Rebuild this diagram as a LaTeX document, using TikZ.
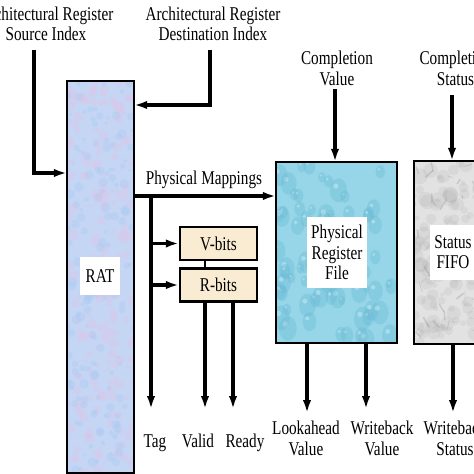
\documentclass[tikz,border=0pt]{standalone}
\usepackage{fontspec}
\setmainfont{Liberation Serif}[FakeStretch=0.78]
\usetikzlibrary{arrows.meta}
\definecolor{ratblue}{RGB}{196,214,244}
\definecolor{ratpink}{RGB}{226,196,232}
\definecolor{ratdeep}{RGB}{170,202,242}
\definecolor{prfcyan}{RGB}{150,214,232}
\definecolor{prfdark}{RGB}{100,182,210}
\definecolor{marble}{RGB}{226,226,226}
\definecolor{marbledark}{RGB}{150,150,150}
\definecolor{cream}{RGB}{250,236,210}
\begin{document}
\begin{tikzpicture}[x=1pt,y=-1pt,
  lbl/.style={font=\fontsize{19.5}{20.5}\selectfont, align=center, inner sep=0pt},
  conn/.style={line width=3.2pt},
  arr/.style={conn,-{Latex[length=13pt,width=8.5pt]}},
  unitbox/.style={inner sep=0pt},
  border/.style={line width=2.4pt},
  bitbox/.style={draw=black, line width=2.4pt, fill=cream, inner sep=0pt,
    minimum width=77pt, minimum height=33pt,
    font=\fontsize{19.5}{20.5}\selectfont},
  whitetag/.style={fill=white, inner sep=0pt, align=center,
    font=\fontsize{19.5}{20.5}\selectfont}]
\useasboundingbox (0,0) rectangle (474,474);

% ---------- RAT ----------
\node[unitbox, fill=ratblue, minimum width=67pt, minimum height=392pt] (rat) at (100.5,277) {};
\pgfmathsetseed{3}
\begin{scope}
  \clip (rat.south west) rectangle (rat.north east);
  \foreach \i in {1,...,220}{
    \pgfmathsetmacro{\px}{67+67*rnd}
    \pgfmathsetmacro{\py}{81+392*rnd}
    \pgfmathsetmacro{\pr}{1.5+4*rnd}
    \fill[ratpink, opacity=0.35] (\px,\py) circle[radius=\pr];
  }
  \foreach \i in {1,...,160}{
    \pgfmathsetmacro{\px}{67+67*rnd}
    \pgfmathsetmacro{\py}{81+392*rnd}
    \pgfmathsetmacro{\pr}{1.5+3.5*rnd}
    \fill[ratdeep, opacity=0.35] (\px,\py) circle[radius=\pr];
  }
\end{scope}
\draw[border] (rat.north west) rectangle (rat.south east);
\node[whitetag, minimum width=40pt, minimum height=38pt] (ratlbl) at (100,276) {RAT};

% ---------- Physical Register File ----------
\node[unitbox, fill=prfcyan, minimum width=121pt, minimum height=181pt] (prf) at (336.5,252.5) {};
\begin{scope}
  \clip (prf.south west) rectangle (prf.north east);
  \foreach \i in {1,...,80}{
    \pgfmathsetmacro{\px}{276+121*rnd}
    \pgfmathsetmacro{\py}{162+181*rnd}
    \pgfmathsetmacro{\pr}{3+6*rnd}
    \fill[prfdark, opacity=0.3] (\px,\py) ellipse[x radius=\pr, y radius=1.4*\pr];
    \fill[white, opacity=0.3] (\px-0.3*\pr,\py-0.5*\pr) circle[radius=0.3*\pr];
  }
\end{scope}
\draw[border] (prf.north west) rectangle (prf.south east);
\node[whitetag, minimum width=60pt, minimum height=71pt] (prflbl) at (337,252.5) {Physical\\Register\\File};

% ---------- Status FIFO ----------
\node[unitbox, fill=marble, minimum width=121pt, minimum height=183pt] (fifo) at (474.5,252.5) {};
\begin{scope}
  \clip (fifo.south west) rectangle (fifo.north east);
  \foreach \i in {1,...,120}{
    \pgfmathsetmacro{\px}{414+70*rnd}
    \pgfmathsetmacro{\py}{161+183*rnd}
    \pgfmathsetmacro{\pr}{2+6*rnd}
    \fill[marbledark, opacity=0.12] (\px,\py) circle[radius=\pr];
  }
  \foreach \i in {1,...,45}{
    \pgfmathsetmacro{\px}{414+70*rnd}
    \pgfmathsetmacro{\py}{161+183*rnd}
    \pgfmathsetmacro{\dx}{-8+16*rnd}
    \pgfmathsetmacro{\dy}{-10+20*rnd}
    \pgfmathsetmacro{\lw}{0.5+1.2*rnd}
    \draw[marbledark, opacity=0.35, line width=\lw pt, line cap=round] (\px,\py) -- ++(\dx,\dy);
  }
\end{scope}
\draw[border] (fifo.north west) rectangle (fifo.south east);
\node[whitetag, minimum width=46pt, minimum height=55pt] (fifolbl) at (453,252) {Status\\FIFO};

% ---------- V-bits / R-bits ----------
\node[bitbox] (vbits) at (218.5,243.5) {V-bits};
\node[bitbox] (rbits) at (218.5,285) {R-bits};

% ---------- Top labels ----------
\node[lbl] (srcidx) at (46,24) {Architectural Register\\Source Index};
\node[lbl] (dstidx) at (213,24) {Architectural Register\\Destination Index};
\node[lbl] (cval) at (337,68.5) {Completion\\Value};
\node[lbl] (cstat) at (455.5,68.5) {Completion\\Status};
\node[lbl, anchor=base] (pmlbl) at (204,184) {Physical Mappings};

% ---------- Bottom labels ----------
\node[lbl, anchor=base] (tag) at (155,447) {Tag};
\node[lbl, anchor=base] (valid) at (198,447) {Valid};
\node[lbl, anchor=base] (ready) at (245,447) {Ready};
\node[lbl] (lookv) at (306,438.5) {Lookahead\\Value};
\node[lbl] (wbv) at (382,438.5) {Writeback\\Value};
\node[lbl] (wbs) at (455,438.5) {Writeback\\Status};

% ---------- Connectors ----------
\coordinate (srctop) at (34,50);
\coordinate (srcbend) at (34,173);
\draw[arr] (srctop) -- (srcbend) -- (rat.west |- srcbend);

\coordinate (dsttop) at (210,50);
\coordinate (dstbend) at (210,105);
\draw[arr] (dsttop) -- (dstbend) -- (rat.east |- dstbend);

\coordinate (pmsplit) at (151,196);
\draw[arr] (rat.east |- pmsplit) -- (prf.west |- pmsplit);
\coordinate (tagend) at (151,409);
\draw[arr] (pmsplit) -- (tagend);
\draw[arr] (pmsplit |- vbits.west) -- (vbits.west);
\draw[arr] (pmsplit |- rbits.west) -- (rbits.west);

\coordinate (vcol) at (205,0);
\coordinate (rcol) at (233,0);
\draw[border] (vbits.south -| vcol) -- (rbits.north -| vcol);
\draw[arr] (rbits.south -| vcol) -- (vcol |- tagend);
\draw[arr] (rbits.south -| rcol) -- (rcol |- tagend);

\coordinate (cvtop) at (335,89);
\draw[arr] (cvtop) -- (prf.north -| cvtop);
\coordinate (cstop) at (452,95);
\draw[arr] (cstop) -- (fifo.north -| cstop);

\coordinate (lookend) at (307,413);
\coordinate (wbvend) at (366,409);
\coordinate (wbsend) at (453,413);
\draw[arr] (prf.south -| lookend) -- (lookend);
\draw[arr] (prf.south -| wbvend) -- (wbvend);
\draw[arr] (fifo.south -| wbsend) -- (wbsend);
\end{tikzpicture}
\end{document}
